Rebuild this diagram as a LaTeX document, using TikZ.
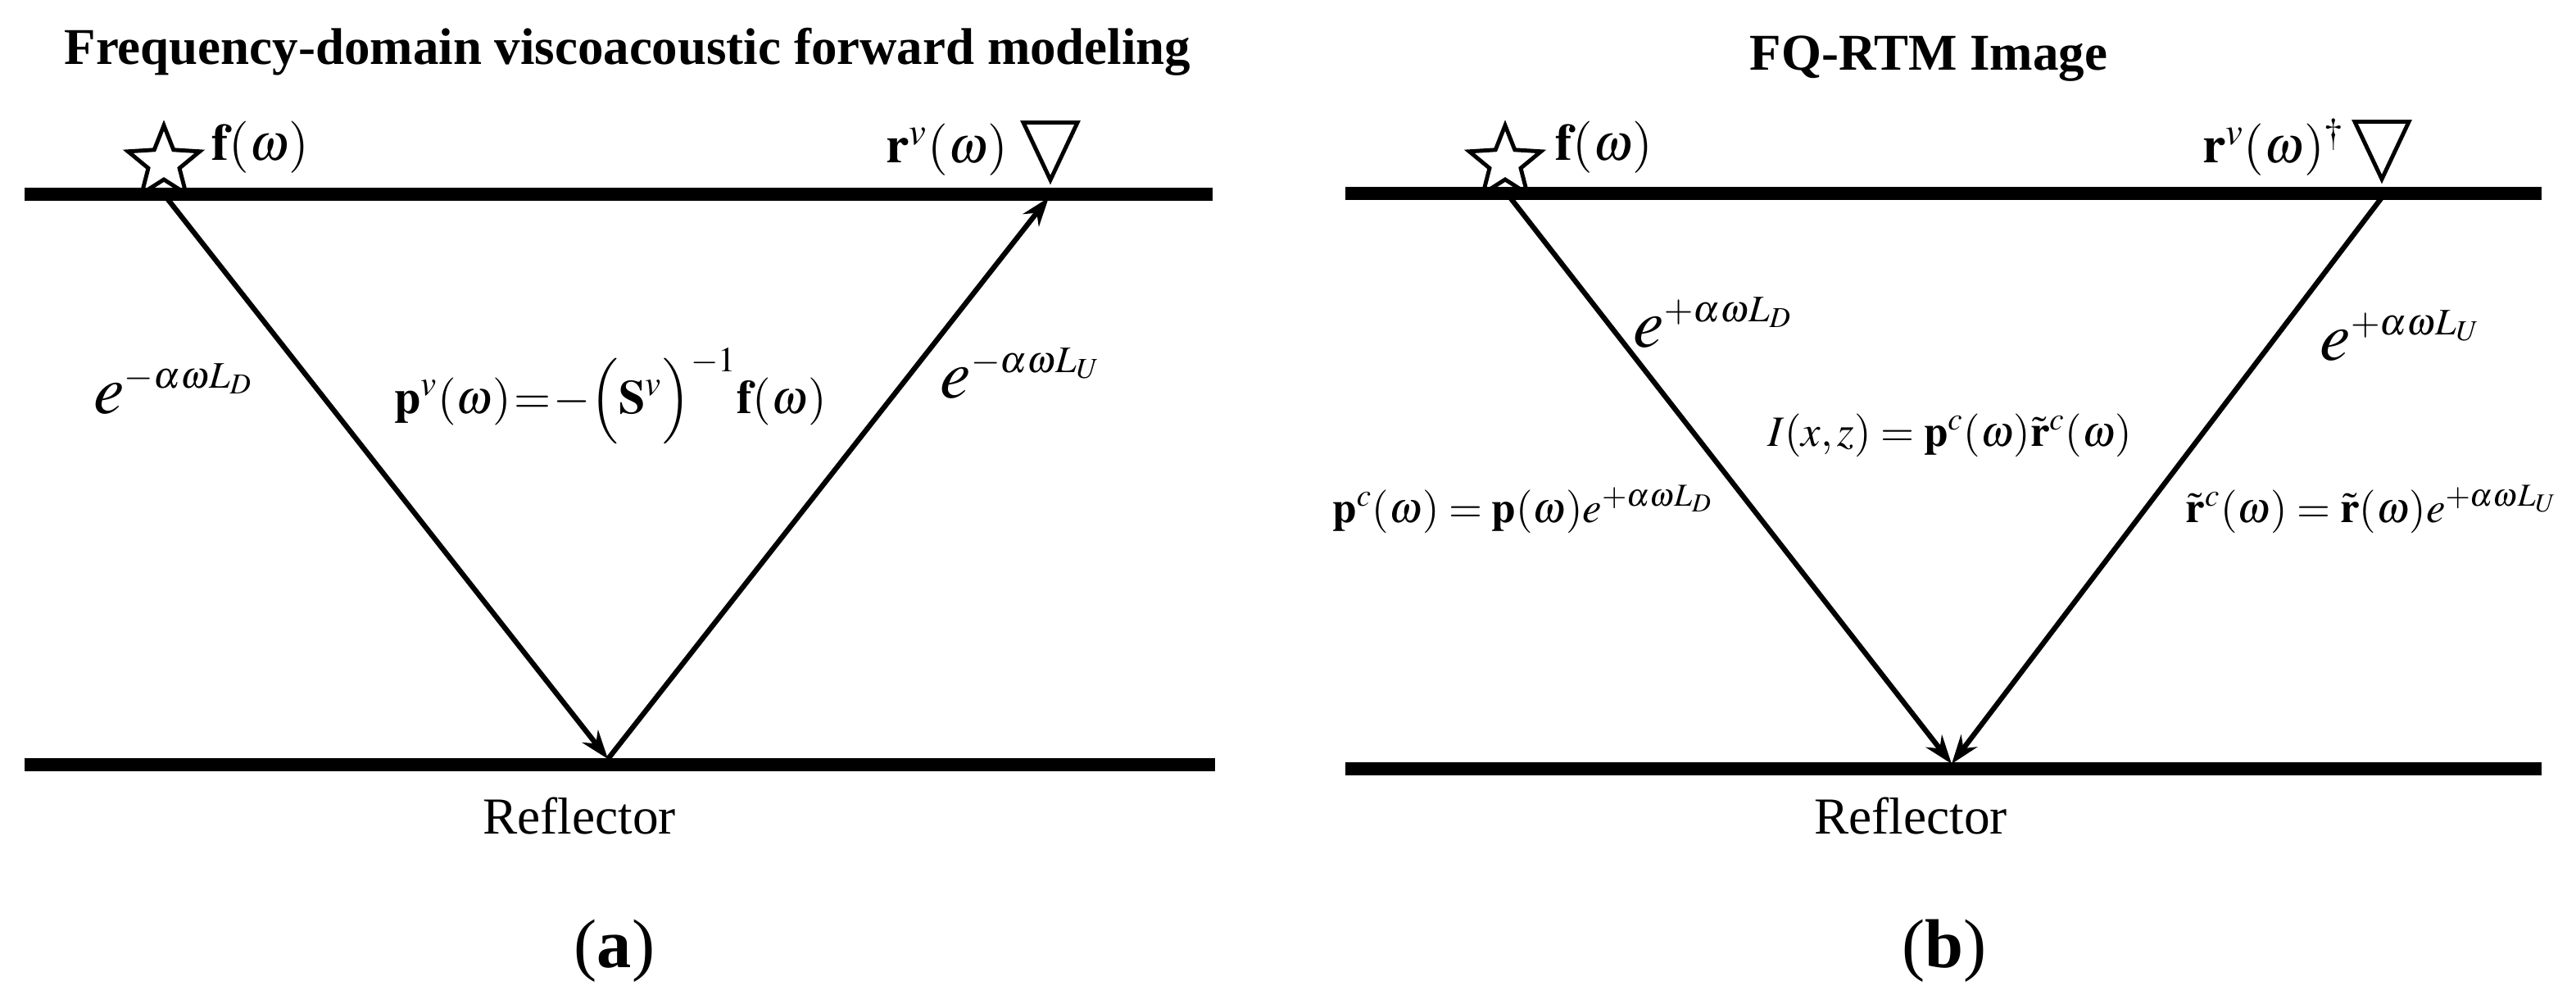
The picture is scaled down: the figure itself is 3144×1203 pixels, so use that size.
\documentclass[tikz,border=0pt]{standalone}
\usepackage{mathptmx}
\usepackage{fontspec}
\setmainfont{Liberation Serif}
\usetikzlibrary{arrows.meta,shapes.geometric}
\DeclareMathSizes{24}{24}{13}{10}
\tikzset{
	layer/.style={line width=4.3pt},
	ray/.style={line width=1.8pt, -{Stealth[length=10pt,width=7pt]}},
	src/.style={draw, fill=white, line width=1.4pt, shape=star, star points=5, star point ratio=2.3, inner sep=0pt, minimum size=0.92cm},
	rcv/.style={draw, fill=white, line width=1.4pt, shape=isosceles triangle, shape border rotate=-90, isosceles triangle stretches=true, anchor=apex, inner sep=0pt, minimum width=0.66cm, minimum height=0.70cm},
	lbl/.style={inner sep=0pt, anchor=base, font=\fontsize{18}{20}\selectfont},
	small/.style={lbl, font=\fontsize{15}{17}\selectfont},
	mid/.style={lbl, font=\fontsize{16.5}{18}\selectfont},
	big/.style={lbl, font=\fontsize{24}{26}\selectfont},
	heading/.style={lbl, font=\fontsize{17.9}{20}\selectfont\bfseries},
	tag/.style={lbl, font=\fontsize{24}{26}\selectfont}
}
\begin{document}
\begin{tikzpicture}[x=0.01cm, y=-0.01cm]
	\useasboundingbox (0,0) rectangle (3144,1203);
	% panel (a)
	\coordinate (topA) at (200,237);
	\coordinate (botA) at (742,926);
	\coordinate (endA) at (1280,241);
	\node[src] (starA) at (200,199) {};
	\node[rcv] (recvA) at (1282,226) {};
	\draw[layer] (30,237) -- (1480,237);
	\draw[layer] (30,933) -- (1483,933);
	\draw[ray] (topA) -- (botA);
	\draw[ray] (botA) -- (endA);
	\node[heading] (titleA) at (766,78) {Frequency-domain viscoacoustic forward modeling};
	\node[lbl] (srcA) at (318,195) {$\mathbf{f}(\omega)$};
	\node[lbl] (recA) at (1156,199) {$\mathbf{r}^{v}(\omega)$};
	\node[big] (downA) at (212,504) {$e^{-\alpha\omega L_D}$};
	\node[big] (upA) at (1246,485) {$e^{-\alpha\omega L_U}$};
	\node[mid] (waveA) at (745,504) {\thickmuskip=1mu\medmuskip=0mu$\mathbf{p}^{v}(\omega)=-\Bigl(\mathbf{S}^{v}\Bigr)^{-1}\mathbf{f}(\omega)$};
	\node[lbl] (reflA) at (707,1017) {Reflector};
	\node[tag] (capA) at (750,1180) {(\textbf{a})};
	% panel (b)
	\coordinate (topB) at (1840,237);
	\coordinate (botB) at (2382,932);
	\coordinate (endB) at (2910,237);
	\node[src] (starB) at (1837,199) {};
	\node[rcv] (recvB) at (2907,225) {};
	\draw[layer] (1642,236) -- (3102,236);
	\draw[layer] (1642,938) -- (3102,938);
	\draw[ray] (topB) -- (botB);
	\draw[ray] (endB) -- (botB);
	\node[heading] (titleB) at (2354,85) {FQ-RTM Image};
	\node[lbl] (srcB) at (1958,195) {$\mathbf{f}(\omega)$};
	\node[lbl] (recB) at (2775,199) {$\mathbf{r}^{v}(\omega)^{\dagger}$};
	\node[big] (downB) at (2091,423) {$e^{+\alpha\omega L_D}$};
	\node[big] (upB) at (2930,439) {$e^{+\alpha\omega L_U}$};
	\node[small] (imgB) at (2380,544) {$I(x,z)=\mathbf{p}^{c}(\omega)\tilde{\mathbf{r}}^{c}(\omega)$};
	\node[small] (waveB) at (1859,637) {$\mathbf{p}^{c}(\omega)=\mathbf{p}(\omega)e^{+\alpha\omega L_D}$};
	\node[small] (backB) at (2895,637) {$\tilde{\mathbf{r}}^{c}(\omega)=\tilde{\mathbf{r}}(\omega)e^{+\alpha\omega L_U}$};
	\node[lbl] (reflB) at (2332,1017) {Reflector};
	\node[tag] (capB) at (2373,1180) {(\textbf{b})};
\end{tikzpicture}
\end{document}
